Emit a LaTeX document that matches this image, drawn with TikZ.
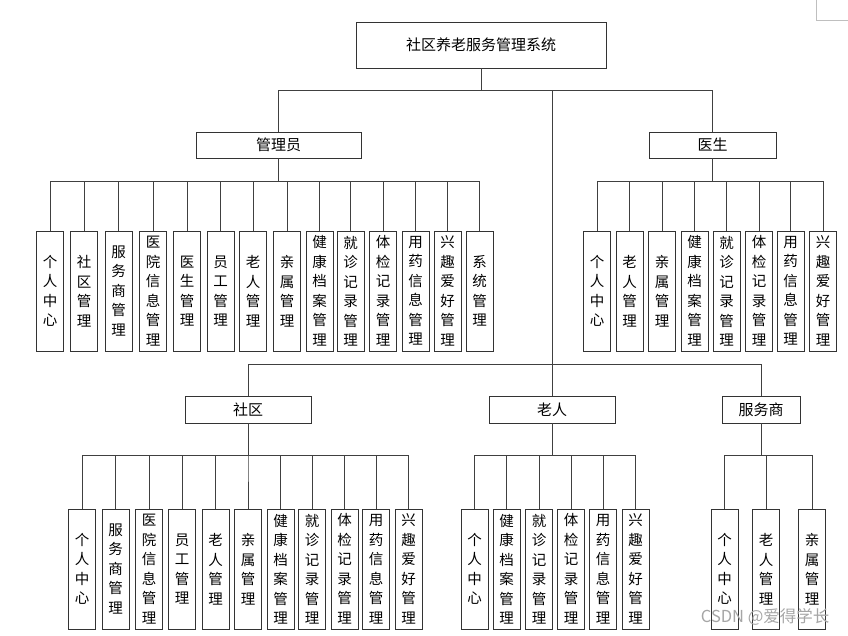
\documentclass[tikz,border=0pt]{standalone}
\usepackage{fontspec}
\newfontfamily\cjk{Noto Sans CJK SC}
\usetikzlibrary{positioning}

\tikzset{
  box/.style={draw=black!80, line width=0.8pt, fill=white, inner sep=0pt,
    font=\cjk\fontsize{15}{18}\selectfont},
  leaf/.style={draw=black!80, line width=0.8pt, fill=white, inner sep=0pt,
    minimum width=27pt, minimum height=120pt, align=center,
    font=\cjk\fontsize{14.5}{19.5}\selectfont},
  link/.style={draw=black!75, line width=0.8pt}
}

\begin{document}
\begin{tikzpicture}[x=1pt, y=-1pt]
  \useasboundingbox (0,0) rectangle (848,635);

  % root and second level
  \node[box, minimum width=250pt, minimum height=46pt] (sys) at (481,45) {社区养老服务管理系统};
  \node[box, minimum width=165pt, minimum height=26pt] (adm) at (278.5,145) {管理员};
  \node[box, minimum width=127pt, minimum height=26pt] (doc) at (712.5,145) {医生};
  \node[box, minimum width=126pt, minimum height=27pt] (com) at (248,409.5) {社区};
  \node[box, minimum width=126pt, minimum height=27pt] (eld) at (552,409.5) {老人};
  \node[box, minimum width=78pt, minimum height=27pt] (svc) at (761,409.5) {服务商};

  \draw[link] (sys.south) -- ++(0,22) -| (adm.north);
  \draw[link] (sys.south) -- ++(0,22) -| (doc.north);
  \draw[link] (sys.south) -- ++(0,22) -| (eld.north);
  \draw[link] (eld.north) -- ++(0,-31) -| (com.north);
  \draw[link] (eld.north) -- ++(0,-31) -| (svc.north);

  % admin
  \foreach \x/\t [count=\i] in {50/{个\\人\\中\\心}, 84/{社\\区\\管\\理}, 118.5/{服\\务\\商\\管\\理},
      153/{医\\院\\信\\息\\管\\理}, 187/{医\\生\\管\\理}, 220.5/{员\\工\\管\\理}, 253/{老\\人\\管\\理},
      287/{亲\\属\\管\\理}, 319.5/{健\\康\\档\\案\\管\\理}, 350.5/{就\\诊\\记\\录\\管\\理},
      383/{体\\检\\记\\录\\管\\理}, 415.5/{用\\药\\信\\息\\管\\理}, 447.5/{兴\\趣\\爱\\好\\管\\理},
      479.5/{系\\统\\管\\理}} {
    \node[leaf] (a\i) at (\x,291) {\t};
    \draw[link] (adm.south) -- ++(0,23) -| (a\i.north);
  }

  % doctor
  \foreach \x/\t [count=\i] in {597/{个\\人\\中\\心}, 629.5/{老\\人\\管\\理}, 662/{亲\\属\\管\\理},
      694.5/{健\\康\\档\\案\\管\\理}, 726.5/{就\\诊\\记\\录\\管\\理}, 759/{体\\检\\记\\录\\管\\理},
      790.5/{用\\药\\信\\息\\管\\理}, 823/{兴\\趣\\爱\\好\\管\\理}} {
    \node[leaf] (d\i) at (\x,291) {\t};
    \draw[link] (doc.south) -- ++(0,23) -| (d\i.north);
  }

  % community
  \foreach \x/\t [count=\i] in {82/{个\\人\\中\\心}, 115.5/{服\\务\\商\\管\\理}, 149/{医\\院\\信\\息\\管\\理},
      182/{员\\工\\管\\理}, 215.5/{老\\人\\管\\理}, 248/{亲\\属\\管\\理}, 280.5/{健\\康\\档\\案\\管\\理},
      312/{就\\诊\\记\\录\\管\\理}, 344.5/{体\\检\\记\\录\\管\\理}, 376/{用\\药\\信\\息\\管\\理},
      408.5/{兴\\趣\\爱\\好\\管\\理}} {
    \node[leaf] (c\i) at (\x,569) {\t};
    \draw[link] (com.south) -- ++(0,32) -| (c\i.north);
  }

  % elderly
  \foreach \x/\t [count=\i] in {474.5/{个\\人\\中\\心}, 506.5/{健\\康\\档\\案\\管\\理},
      539/{就\\诊\\记\\录\\管\\理}, 571/{体\\检\\记\\录\\管\\理}, 603/{用\\药\\信\\息\\管\\理},
      635.5/{兴\\趣\\爱\\好\\管\\理}} {
    \node[leaf] (e\i) at (\x,569) {\t};
    \draw[link] (eld.south) -- ++(0,32) -| (e\i.north);
  }

  % provider
  \foreach \x/\t [count=\i] in {724.5/{个\\人\\中\\心}, 766/{老\\人\\管\\理}, 812/{亲\\属\\管\\理}} {
    \node[leaf] (s\i) at (\x,569) {\t};
    \draw[link] (svc.south) -- ++(0,32) -| (s\i.north);
  }

  % corner mark and watermark
  \coordinate (cornerA) at (816,0);
  \coordinate (cornerB) at (848,20);
  \draw[black!25, line width=0.8pt] (cornerA) |- (cornerB);
  \node[text=black!35, font=\cjk\fontsize{16.5}{19}\selectfont, anchor=east] (mark) at (833,617) {CSDN @爱得学长};
\end{tikzpicture}
\end{document}
